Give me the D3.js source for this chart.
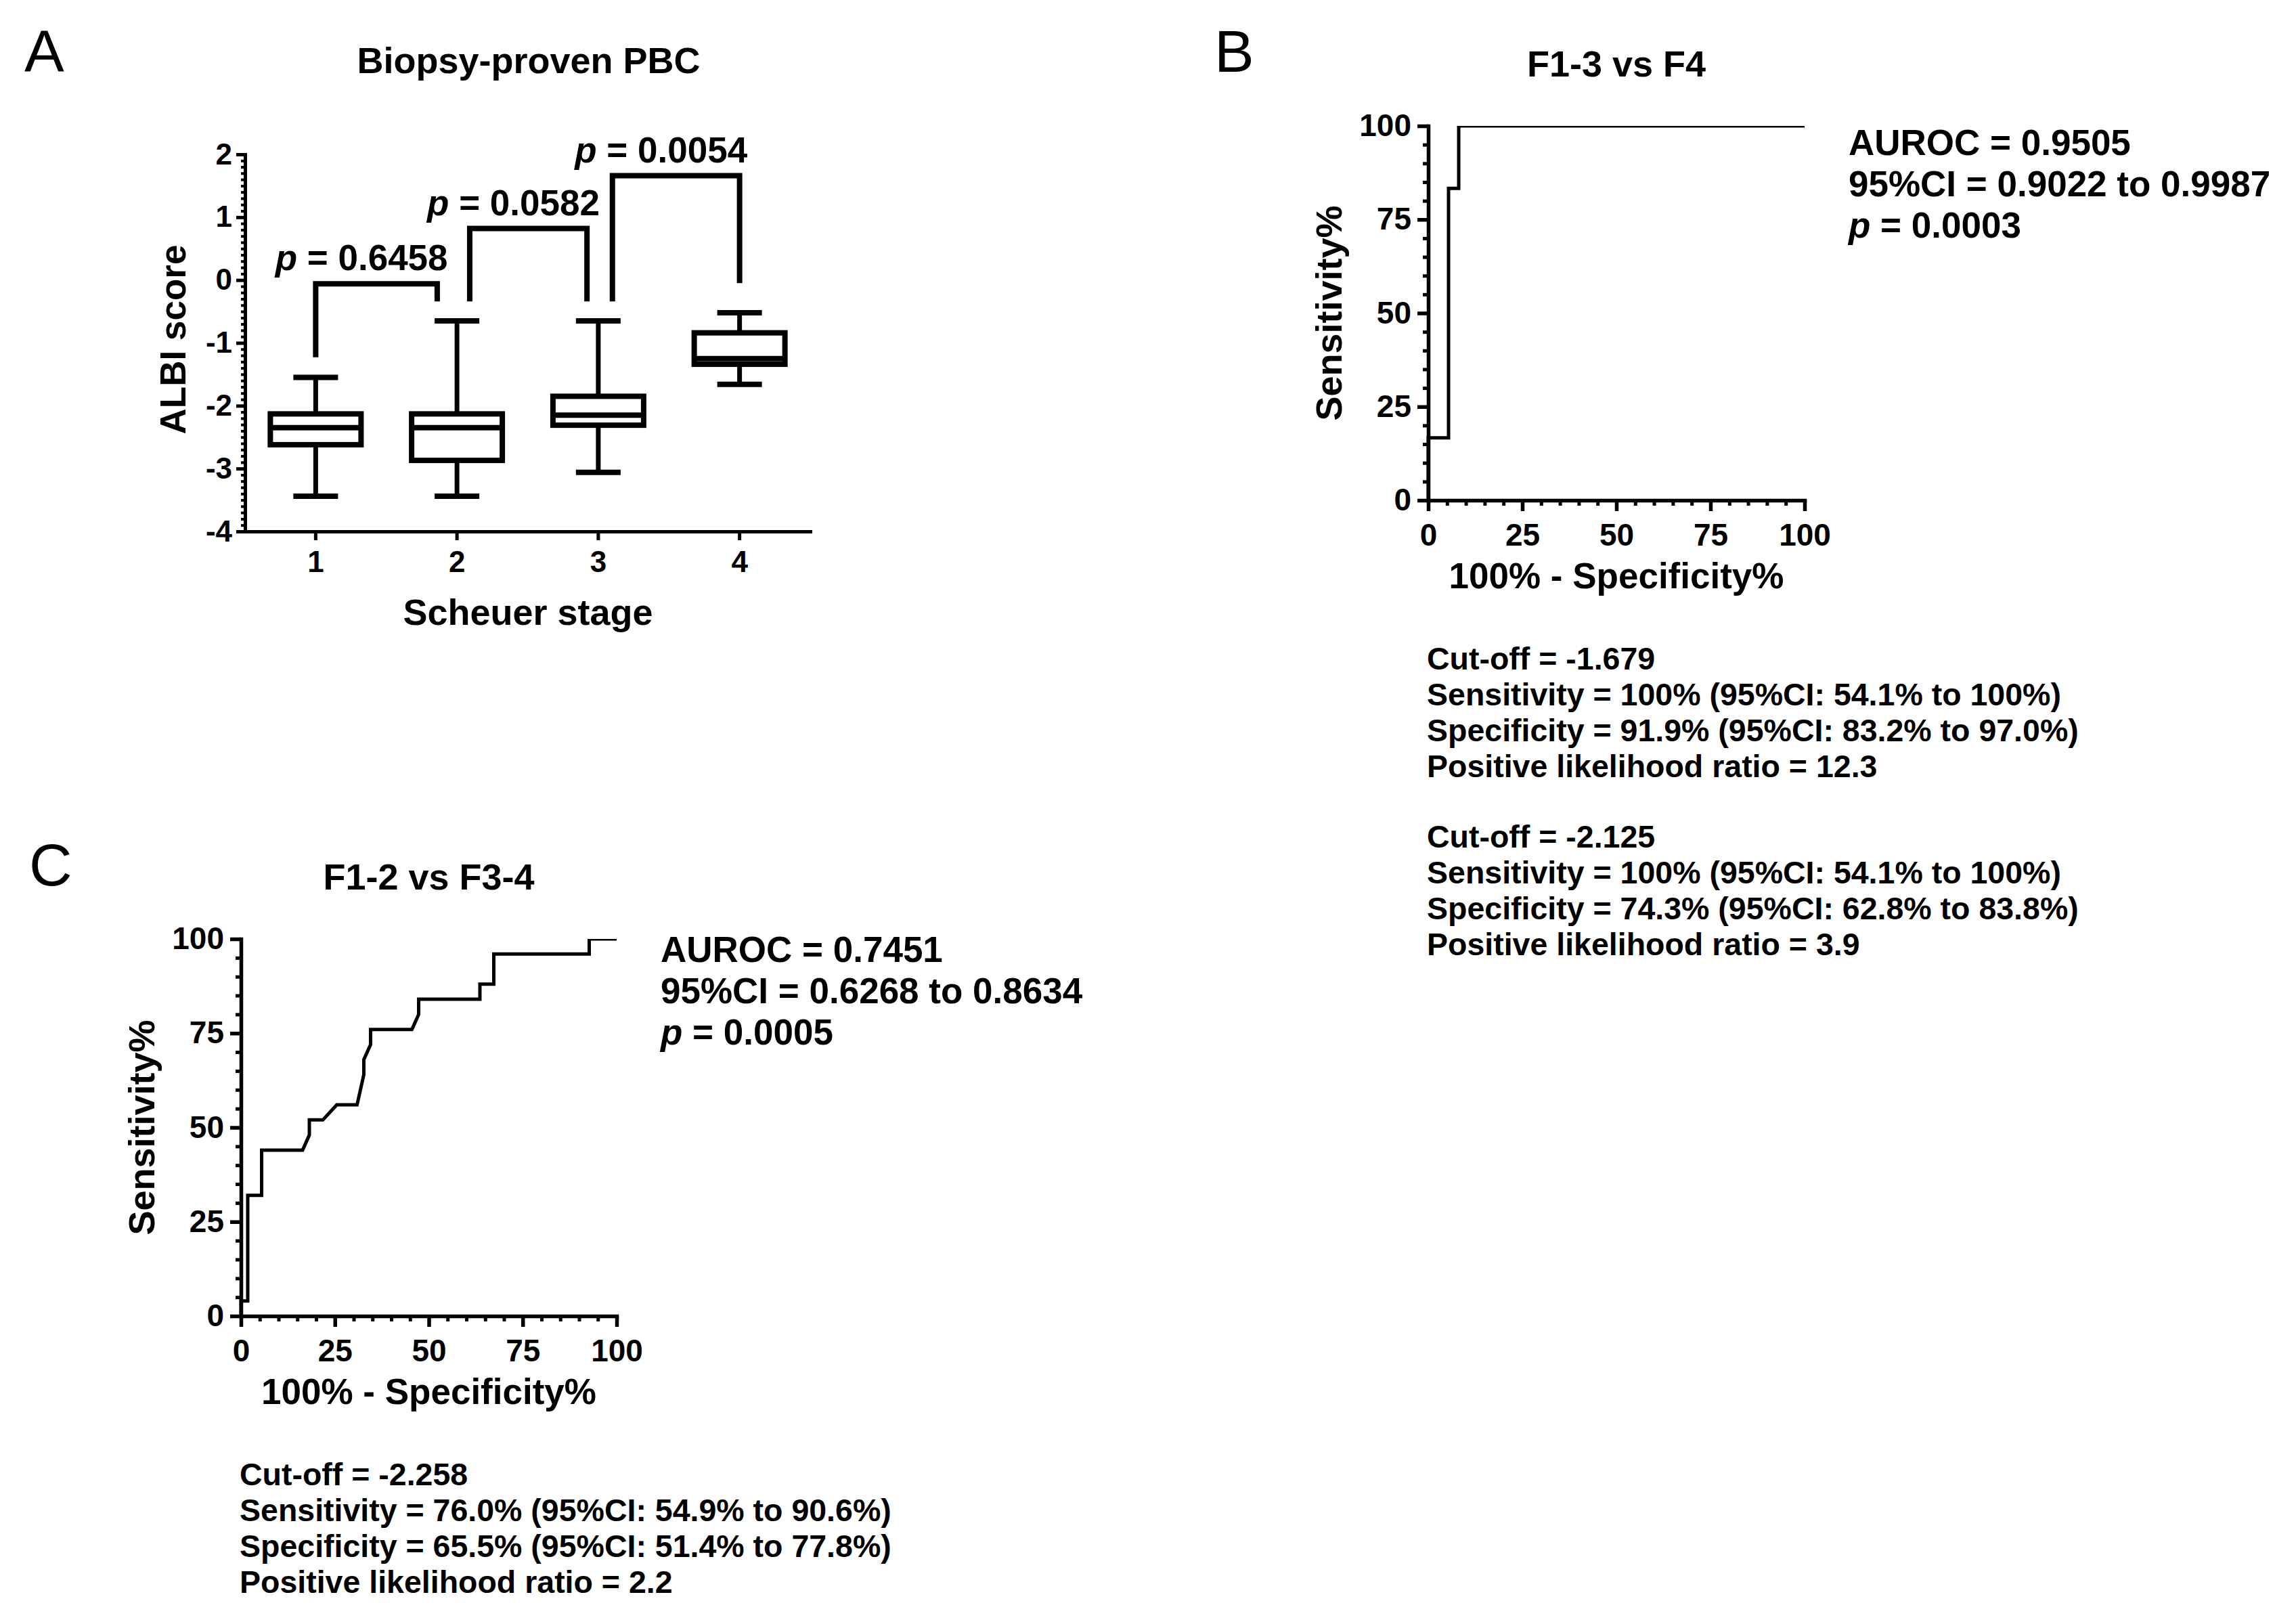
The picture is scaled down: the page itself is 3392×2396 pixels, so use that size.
<!DOCTYPE html>
<html><head><meta charset="utf-8">
<script src="https://cdn.jsdelivr.net/npm/d3@7"></script>
<style>
body{margin:0;background:#fff;}
text{font-family:"Liberation Sans",Arial,Helvetica,sans-serif;fill:#000;}
</style>
</head><body><div id="chart"></div>
<script>
// ---------------- DATA ----------------
// Panel A: box plot of ALBI score by Scheuer stage
const stages = ["1", "2", "3", "4"];
const whiskerLow  = [-3.44, -3.44, -3.06, -1.66];
const quart1      = [-2.62, -2.87, -2.31, -1.34];
const medians     = [-2.35, -2.35, -2.15, -1.25];
const quart3      = [-2.13, -2.13, -1.85, -0.84];
const whiskerHigh = [-1.55, -0.65, -0.65, -0.52];
const albiTicks   = [-4, -3, -2, -1, 0, 1, 2];
// significance brackets (x in stage units, y in ALBI units)
const pValues        = ["0.6458", "0.0582", "0.0054"];
const bracketStart   = [1, 2.09, 3.10];
const bracketEnd     = [1.86, 2.92, 4];
const bracketTop     = [-0.06, 0.82, 1.66];
const bracketStartLo = [-1.23, -0.34, -0.34];
const bracketEndLo   = [-0.34, -0.34, -0.05];

// ROC panels
const rocTicks = [0, 25, 50, 75, 100];
const rocB_fpr  = [0, 0, 5.4, 5.4, 8.1, 8.1, 100];
const rocB_sens = [0, 16.7, 16.7, 83.3, 83.3, 100, 100];
const rocC_fpr  = [0, 0, 1.8, 1.8, 5.5, 5.5, 16.4, 18.2, 18.2, 21.8, 25.5, 30.9, 32.7, 32.7, 34.5, 34.5, 45.5, 47.3, 47.3, 63.6, 63.6, 67.3, 67.3, 92.7, 92.7, 100];
const rocC_sens = [0, 4, 4, 32, 32, 44, 44, 48, 52, 52, 56, 56, 64, 68, 72, 76, 76, 80, 84, 84, 88, 88, 96, 96, 100, 100];

const statsB = ["AUROC = 0.9505", "95%CI = 0.9022 to 0.9987"];
const pB = "0.0003";
const statsC = ["AUROC = 0.7451", "95%CI = 0.6268 to 0.8634"];
const pC = "0.0005";
const cutoffB = [
  ["Cut-off = -1.679", "Sensitivity = 100% (95%CI: 54.1% to 100%)", "Specificity = 91.9% (95%CI: 83.2% to 97.0%)", "Positive likelihood ratio = 12.3"],
  ["Cut-off = -2.125", "Sensitivity = 100% (95%CI: 54.1% to 100%)", "Specificity = 74.3% (95%CI: 62.8% to 83.8%)", "Positive likelihood ratio = 3.9"]
];
const cutoffC = [
  ["Cut-off = -2.258", "Sensitivity = 76.0% (95%CI: 54.9% to 90.6%)", "Specificity = 65.5% (95%CI: 51.4% to 77.8%)", "Positive likelihood ratio = 2.2"]
];

// ---------------- DRAW ----------------
const W = 3392, H = 2396;
const FONT = '"Liberation Sans",Arial,Helvetica,sans-serif';
const svg = d3.select("#chart").append("svg")
  .attr("width", W).attr("height", H).attr("viewBox", `0 0 ${W} ${H}`);
svg.append("rect").attr("width", W).attr("height", H).attr("fill", "#fff");

function styleAxis(g, sw) {
  g.selectAll("path.domain").attr("stroke", "#000").attr("stroke-width", sw).attr("stroke-linecap", "square");
  g.selectAll(".tick line").attr("stroke", "#000").attr("stroke-width", sw);
}
const plainFmt = d => String(d);

// panel letters
[["A", 36, 106], ["B", 1794, 106], ["C", 43, 1308]].forEach(([t, x, y]) => {
  svg.append("text").attr("x", x).attr("y", y).attr("font-size", 88).text(t);
});

// ===== Panel A =====
(function () {
  const L = 362, R = 1197, T = 228, B = 785;
  const g = svg.append("g");
  const x = d3.scaleBand().domain(stages).range([L, R]);
  const bw = x.bandwidth();
  const xc = d => x(d) + bw / 2;
  const xLin = d3.scaleLinear().domain([1, 4]).range([xc("1"), xc("4")]);
  const y = d3.scaleLinear().domain([-4, 2]).range([B, T]);

  // minor ticks
  const minor = d3.range(-40, 21).filter(i => i % 10 !== 0).map(i => i / 10);
  const gm = g.append("g").attr("transform", `translate(${L},0)`)
    .call(d3.axisLeft(y).tickValues(minor).tickSize(6).tickSizeOuter(0).tickFormat(""));
  styleAxis(gm, 4);
  gm.select("path.domain").remove();

  const gy = g.append("g").attr("transform", `translate(${L},0)`)
    .call(d3.axisLeft(y).tickValues(albiTicks).tickFormat(plainFmt).tickSize(13).tickSizeOuter(0).tickPadding(6));
  styleAxis(gy, 5);
  gy.selectAll(".tick text").attr("font-size", 44).attr("font-weight", "bold").attr("font-family", FONT);

  const gx = g.append("g").attr("transform", `translate(0,${B})`)
    .call(d3.axisBottom(x).tickSize(13).tickSizeOuter(0).tickPadding(16));
  styleAxis(gx, 5);
  gx.selectAll(".tick text").attr("font-size", 44).attr("font-weight", "bold").attr("font-family", FONT);

  // boxes
  const half = 67, capHalf = 33;
  stages.forEach((s, i) => {
    const cx = xc(s);
    g.append("line").attr("x1", cx).attr("x2", cx).attr("y1", y(quart3[i])).attr("y2", y(whiskerHigh[i]))
      .attr("stroke", "#000").attr("stroke-width", 7);
    g.append("line").attr("x1", cx).attr("x2", cx).attr("y1", y(quart1[i])).attr("y2", y(whiskerLow[i]))
      .attr("stroke", "#000").attr("stroke-width", 7);
    [whiskerHigh[i], whiskerLow[i]].forEach(v => {
      g.append("line").attr("x1", cx - capHalf).attr("x2", cx + capHalf).attr("y1", y(v)).attr("y2", y(v))
        .attr("stroke", "#000").attr("stroke-width", 8);
    });
    g.append("rect").attr("x", cx - half).attr("width", 2 * half)
      .attr("y", y(quart3[i])).attr("height", y(quart1[i]) - y(quart3[i]))
      .attr("fill", "none").attr("stroke", "#000").attr("stroke-width", 8);
    g.append("line").attr("x1", cx - half).attr("x2", cx + half).attr("y1", y(medians[i])).attr("y2", y(medians[i]))
      .attr("stroke", "#000").attr("stroke-width", 8);
  });

  // brackets
  pValues.forEach((p, i) => {
    const x1 = xLin(bracketStart[i]), x2 = xLin(bracketEnd[i]);
    g.append("path")
      .attr("d", `M${x1},${y(bracketStartLo[i])}V${y(bracketTop[i])}H${x2}V${y(bracketEndLo[i])}`)
      .attr("fill", "none").attr("stroke", "#000").attr("stroke-width", 8).attr("stroke-linejoin", "miter");
    const t = g.append("text").attr("x", (x1 + x2) / 2 - 22).attr("y", y(bracketTop[i]) - 20)
      .attr("text-anchor", "middle").attr("font-size", 53).attr("font-weight", "bold");
    t.append("tspan").attr("font-style", "italic").text("p");
    t.append("tspan").text(" = " + p);
  });

  // titles
  g.append("text").attr("x", 781).attr("y", 108).attr("text-anchor", "middle")
    .attr("font-size", 54).attr("font-weight", "bold").text("Biopsy-proven PBC");
  g.append("text").attr("x", 780).attr("y", 923).attr("text-anchor", "middle")
    .attr("font-size", 54).attr("font-weight", "bold").text("Scheuer stage");
  g.append("text").attr("transform", `translate(274,${(T + B) / 2 - 5}) rotate(-90)`).attr("text-anchor", "middle")
    .attr("font-size", 53).attr("font-weight", "bold").text("ALBI score");
})();

// ===== ROC panels =====
function drawRoc(o) {
  const g = svg.append("g");
  const x = d3.scaleLinear().domain([0, 100]).range([o.L, o.R]);
  const y = d3.scaleLinear().domain([0, 100]).range([o.B, o.T]);
  const minor = d3.range(0, 101, 5).filter(v => v % 25 !== 0);

  const gmy = g.append("g").attr("transform", `translate(${o.L},0)`)
    .call(d3.axisLeft(y).tickValues(minor).tickSize(8).tickFormat(""));
  styleAxis(gmy, 5); gmy.select("path.domain").remove();
  const gmx = g.append("g").attr("transform", `translate(0,${o.B})`)
    .call(d3.axisBottom(x).tickValues(minor).tickSize(8).tickFormat(""));
  styleAxis(gmx, 5); gmx.select("path.domain").remove();

  const gy = g.append("g").attr("transform", `translate(${o.L},0)`)
    .call(d3.axisLeft(y).tickValues(rocTicks).tickFormat(plainFmt).tickSize(16).tickSizeOuter(0).tickPadding(9));
  styleAxis(gy, 5.5);
  const gx = g.append("g").attr("transform", `translate(0,${o.B})`)
    .call(d3.axisBottom(x).tickValues(rocTicks).tickFormat(plainFmt).tickSize(16).tickSizeOuter(0).tickPadding(18));
  styleAxis(gx, 5.5);
  g.selectAll(".tick text").attr("font-size", 46).attr("font-weight", "bold").attr("font-family", FONT);

  // curve (clipped to plot area)
  const cid = "clip" + o.id;
  svg.append("defs").append("clipPath").attr("id", cid)
    .append("rect").attr("x", o.L - 10).attr("y", o.T).attr("width", o.R - o.L + 10).attr("height", o.B - o.T + 10);
  const pts = o.fpr.map((v, i) => [v, o.sens[i]]);
  g.append("path").attr("clip-path", `url(#${cid})`)
    .attr("d", d3.line().x(d => x(d[0])).y(d => y(d[1]))(pts))
    .attr("fill", "none").attr("stroke", "#000").attr("stroke-width", 5).attr("stroke-linejoin", "miter");

  const cxp = (o.L + o.R) / 2, cyp = (o.T + o.B) / 2;
  g.append("text").attr("x", cxp).attr("y", o.T - 73).attr("text-anchor", "middle")
    .attr("font-size", 54).attr("font-weight", "bold").text(o.title);
  g.append("text").attr("x", cxp).attr("y", o.B + 130).attr("text-anchor", "middle")
    .attr("font-size", 53).attr("font-weight", "bold").text("100% - Specificity%");
  g.append("text").attr("transform", `translate(${o.L - 128},${cyp}) rotate(-90)`).attr("text-anchor", "middle")
    .attr("font-size", 54).attr("font-weight", "bold").text("Sensitivity%");

  // stats
  const sx = o.R + 65;
  o.stats.forEach((s, i) => {
    g.append("text").attr("x", sx).attr("y", o.T + o.statY + i * 61)
      .attr("font-size", 53).attr("font-weight", "bold").text(s);
  });
  const pt = g.append("text").attr("x", sx).attr("y", o.T + o.statY + 2 * 61)
    .attr("font-size", 53).attr("font-weight", "bold");
  pt.append("tspan").attr("font-style", "italic").text("p");
  pt.append("tspan").text(" = " + o.p);

  // cut-off blocks
  o.blocks.forEach((blk, bi) => {
    blk.forEach((line, li) => {
      g.append("text").attr("x", o.L - 2).attr("y", o.B + 250 + bi * 263 + li * 53)
        .attr("font-size", 46.5).attr("font-weight", "bold").text(line);
    });
  });
}

drawRoc({ id: "B", L: 2110, R: 2666, T: 186, B: 739, title: "F1-3 vs F4",
  fpr: rocB_fpr, sens: rocB_sens, stats: statsB, p: pB, statY: 43, blocks: cutoffB });
drawRoc({ id: "C", L: 356, R: 911, T: 1387, B: 1944, title: "F1-2 vs F3-4",
  fpr: rocC_fpr, sens: rocC_sens, stats: statsC, p: pC, statY: 34, blocks: cutoffC });
</script>
</body></html>
